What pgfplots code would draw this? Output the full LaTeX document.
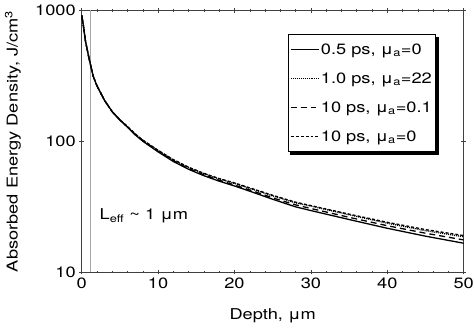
\documentclass[border=0pt]{standalone}
\usepackage{pgfplots}
\pgfplotsset{compat=1.18}
\usepackage{fontspec}
\setmainfont{TeX Gyre Heros}[FakeStretch=1.22]
\usetikzlibrary{backgrounds}
\begin{document}
\begin{tikzpicture}
\begin{axis}[
  scale only axis,
  width=382bp, height=261.5bp,
  ymode=log,
  xmin=0, xmax=50, ymin=10, ymax=1000,
  xtick={0,10,20,30,40,50},
  minor x tick num=4,
  ytick={10,100,1000},
  yticklabels={10,100,1000},
  log basis y=10,
  font=\fontsize{15}{17}\selectfont,
  /pgf/number format/assume math mode=true,
  ticklabel style={font=\fontsize{15}{17}\selectfont},
  axis line style={black!75, line width=0.6pt},
  major tick length=5bp, minor tick length=3bp,
  tick style={black!75, line width=0.5pt},
  tick align=center,
  xlabel={Depth, μm},
  ylabel={Absorbed Energy Density, J/cm\textsuperscript{3}},
  xlabel style={at={(axis description cs:0.5,-0.168)}, anchor=center},
  ylabel style={at={(axis description cs:-0.18,0.5)}, anchor=center},
  legend cell align=left,
  legend style={name=myleg, at={(axis description cs:0.928,0.91)}, anchor=north east,
    draw=black, line width=0.8pt, fill=white,
    row sep=13bp, inner xsep=2bp, inner ysep=7bp,
    /tikz/every even column/.append style={column sep=1bp},
    font=\fontsize{15}{17}\selectfont},
  legend image code/.code={\draw[#1, line width=0.6pt] (0bp,0bp) -- (28bp,0bp);},
]
\draw[gray!70, line width=0.8pt] (axis cs:1.1,10) -- (axis cs:1.1,1000);
\addplot[black, line width=1.3pt] coordinates {
(0,920) (0.2,780) (0.5,580) (1,420) (1.5,315) (2,265) (3,205) (4,168) (5,145) (6,128) (7,112) (8,100) (10,83) (12,70) (14,61) (16,54.5) (18,49.5) (20,45.5) (22,41.5) (25,36) (28,31.5) (30,29.5) (35,25.2) (40,21.6) (45,18.8) (50,16.6)
};
\addlegendentry{0.5 ps, μ\textsubscript{a}=0}
\addplot[black, line width=1.3pt, dash pattern=on 1pt off 1pt] coordinates {
(0,920) (0.2,780) (0.5,580) (1,420) (1.5,315) (2,265) (3,205) (4,168) (5,146) (6,129.5) (7,113.5) (8,101.8) (10,85) (12,72) (14,63) (16,56.5) (18,51.5) (20,47.6) (22,43.6) (25,38.2) (28,33.8) (30,31.9) (35,27.4) (40,23.6) (45,20.7) (50,18.6)
};
\addlegendentry{1.0 ps, μ\textsubscript{a}=22}
\addplot[black, line width=1.3pt, dash pattern=on 6pt off 4pt] coordinates {
(0,920) (0.2,780) (0.5,580) (1,420) (1.5,315) (2,265) (3,205) (4,168) (5,145.5) (6,128.5) (7,112.5) (8,100.7) (10,83.8) (12,70.8) (14,61.8) (16,55.3) (18,50.3) (20,46.3) (22,42.4) (25,36.9) (28,32.6) (30,30.6) (35,26.2) (40,22.6) (45,19.8) (50,17.6)
};
\addlegendentry{10 ps, μ\textsubscript{a}=0.1}
\addplot[black, line width=1.3pt, dash pattern=on 3pt off 2pt] coordinates {
(0,920) (0.2,780) (0.5,580) (1,420) (1.5,315) (2,265) (3,205) (4,168) (5,146) (6,129.5) (7,113.8) (8,102) (10,85.3) (12,72.3) (14,63.3) (16,56.8) (18,51.8) (20,48) (22,44) (25,38.6) (28,34.2) (30,32.2) (35,27.7) (40,24) (45,21.1) (50,19)
};
\addlegendentry{10 ps, μ\textsubscript{a}=0}
\node[anchor=west, font=\fontsize{15}{17}\selectfont] at (axis cs:1.9,27) {L\textsubscript{eff} \textasciitilde{} 1 μm};
\end{axis}
\begin{scope}[on background layer]
\fill[black] ([xshift=2.5bp,yshift=-2.5bp]myleg.south west) rectangle ([xshift=2.5bp,yshift=-2.5bp]myleg.north east);
\end{scope}
\pgfresetboundingbox
\path ([xshift=-81.7bp,yshift=-60bp]current axis.south west) rectangle ([xshift=10.3bp,yshift=10.5bp]current axis.north east);
\end{tikzpicture}
\end{document}
